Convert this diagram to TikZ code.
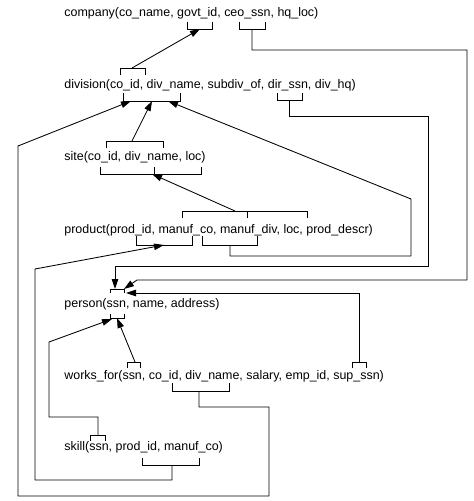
\documentclass[tikz,border=0pt]{standalone}
\usepackage{fontspec}
\setmainfont{Liberation Sans}
\usetikzlibrary{arrows.meta}

\begin{document}
\begin{tikzpicture}[x=1pt, y=-1pt, line width=0.85pt, >={Triangle[length=10pt,width=6.5pt]},
    every node/.style={anchor=base west, inner sep=0pt, font=\fontsize{12.45}{15}\selectfont}]
    \useasboundingbox (0,0) rectangle (474,501);

    % Relations
    \node (company) at (64,16) {company(co\_name, govt\_id, ceo\_ssn, hq\_loc)};
    \node (division) at (64,88) {division(co\_id, div\_name, subdiv\_of, dir\_ssn, div\_hq)};
    \node (site) at (64,160) {site(co\_id, div\_name, loc)};
    \node (product) at (64,233) {product(prod\_id, manuf\_co, manuf\_div, loc, prod\_descr)};
    \node (person) at (64,307) {person(ssn, name, address)};
    \node (worksfor) at (64,379) {works\_for(ssn, co\_id, div\_name, salary, emp\_id, sup\_ssn)};
    \node (skill) at (64,450) {skill(ssn, prod\_id, manuf\_co)};

    % Key brackets
    \draw (187,22) |- (212,29) -- (212,22); % govt_id
    \draw (239,22) |- (265,29) -- (265,22); % ceo_ssn
    \draw (120,75) |- (145,68) -- (145,75); % division co_id (up)
    \draw (123,93) |- (180,101) -- (180,93); % co_id, div_name
    \draw (277,93) |- (302,100) -- (302,93); % dir_ssn
    \draw (106,148) |- (163,141) -- (163,148); % site (up)
    \draw (100,167) |- (201,174) -- (201,167); % site key
    \draw (154,167) -- (154,174);
    \draw (182,218) |- (307,211) -- (307,218); % product (up)
    \draw (247,211) -- (247,218);
    \draw (136,236) |- (192,245) -- (192,236); % prod_id, manuf_co
    \draw (202,236) |- (257,245) -- (257,236); % manuf_co, manuf_div
    \draw (110,293) |- (124,289) -- (124,293); % person ssn (up)
    \draw (110,314) |- (124,318) -- (124,314); % person ssn
    \draw (127,368) |- (140,362) -- (140,368); % works_for ssn (up)
    \draw (352,368) |- (366,362) -- (366,368); % sup_ssn (up)
    \draw (172,383) |- (229,391) -- (229,383); % co_id, div_name
    \draw (90,441) |- (105,435) -- (105,441); % skill ssn (up)
    \draw (142,458) |- (199,465) -- (199,458); % prod_id, manuf_co

    % Attach points
    \coordinate (govt) at (200,29);
    \coordinate (ceo) at (252,29);
    \coordinate (divup) at (132,68);
    \coordinate (dirssn) at (289,100);
    \coordinate (sitekeyup) at (132,141);
    \coordinate (produp) at (235,211);
    \coordinate (prodkey) at (164,245);
    \coordinate (proddiv) at (230,245);
    \coordinate (persup) at (124,289);
    \coordinate (persdn) at (117,318);
    \coordinate (wfssn) at (135,362);
    \coordinate (wfsup) at (359,362);
    \coordinate (wfdiv) at (199,391);
    \coordinate (skssn) at (98,435);
    \coordinate (skprod) at (172,465);

    % Foreign keys
    \draw[->] (divup) -- (govt);
    \draw[->] (ceo) -- (252,50) -- (467,50) -- (467,280) -- (137,280) -- (persup);
    \draw[->] (dirssn) -- (289,116) -- (428,116) -- (428,266) -- (115,266) -- (115,289);
    \draw[->] (sitekeyup) -- (152,101);
    \draw[->] (proddiv) -- (230,256) -- (411,256) -- (411,199) -- (168,101);
    \draw[->] (produp) -- (152,174);
    \draw[->] (wfdiv) -- (199,407) -- (269,407) -- (269,496) -- (18,496) -- (18,146) -- (131,101);
    \draw[->] (skprod) -- (172,480) -- (35,480) -- (35,269) -- (prodkey);
    \draw[->] (wfsup) -- (359,293) -- (126,293);
    \draw[->] (wfssn) -- (persdn);
    \draw[->] (skssn) -- (98,417) -- (49,417) -- (49,342) -- (112,319);
\end{tikzpicture}
\end{document}
